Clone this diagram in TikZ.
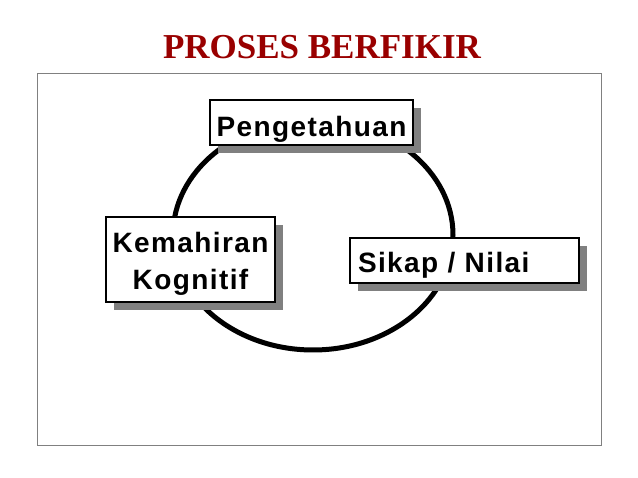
\documentclass[tikz,border=0pt]{standalone}
\usepackage{fontspec}
\setmainfont{Liberation Serif}
\setsansfont{Liberation Sans}
\newfontfamily\kotakfont{Liberation Sans}[LetterSpace=5.0]
\usepackage{xcolor}
\usepackage{tikz}
\usetikzlibrary{shadows}

\definecolor{judul}{RGB}{153,0,0}
\tikzset{
  kotak/.style={draw, line width=2.5pt, fill=white, inner ysep=4pt,
    font=\kotakfont\bfseries\fontsize{28}{36.7}\selectfont,
    drop shadow={shadow xshift=8pt, shadow yshift=-8pt, fill=black!50, opacity=1}}
}

\begin{document}
\begin{tikzpicture}[x=1pt, y=-1pt]
        \useasboundingbox (0, 0) rectangle (638, 478);

        \node[font=\bfseries\fontsize{35}{40}\selectfont, text=judul] (T) at (322, 47) {PROSES BERFIKIR};
        \draw[black!50, line width=1pt] (37, 74) rectangle (601, 446);

        \draw[line width=5pt] (313, 235) ellipse [x radius=140, y radius=115];

        \node[kotak, minimum width=203pt, text height=33pt, text depth=4pt] (P) at (311.5, 122.5) {Pengetahuan};
        \node[kotak, minimum width=169pt, align=center, text height=68.7pt, text depth=8.3pt] (K) at (190.5, 259.5) {Kemahiran\\Kognitif};
        \node[kotak, inner xsep=8pt, text width=213pt, align=left, text height=31pt, text depth=6pt] (S) at (464.5, 260.5) {Sikap / Nilai};
      \end{tikzpicture}
\end{document}
